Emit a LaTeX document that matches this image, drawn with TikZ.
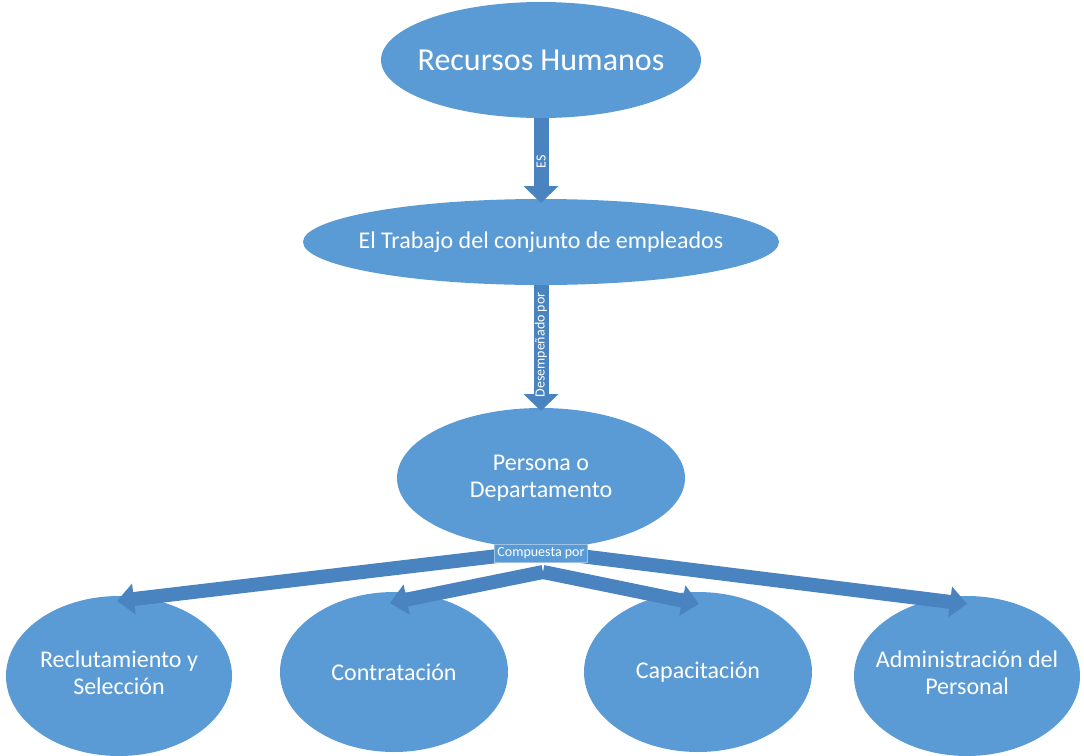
\documentclass[tikz,border=0pt]{standalone}
\usepackage{fontspec}
\setmainfont{Carlito}
\usetikzlibrary{arrows.meta}
\definecolor{fillb}{HTML}{5B9BD5}
\definecolor{arrb}{HTML}{4A84C0}
\begin{document}
\begin{tikzpicture}[x=1pt,y=-1pt,
  txt/.style={text=white,align=center,font=\fontsize{24}{27}\selectfont},
  fat/.style={line width=15pt,draw=arrb,-{Triangle[width=34pt,length=17pt]}},
  side/.style={line width=14pt,draw=arrb,-{Triangle[width=30pt,length=17pt]}},
  lbl/.style={text=white,font=\fontsize{14}{16}\selectfont}]
\useasboundingbox[fill=white] (0,0) rectangle (1084,755);
\path[fill=fillb] (541,60) ellipse[x radius=160,y radius=58];
\node[text=white,font=\fontsize{32}{36}\selectfont] (rh) at (541,60) {Recursos Humanos};
\path[fill=fillb] (541,242) ellipse[x radius=238,y radius=43];
\node[txt] (tr) at (541,242) {El Trabajo del conjunto de empleados};
\path[fill=fillb] (541,478) ellipse[x radius=144,y radius=70];
\node[txt] (pd) at (541,478) {Persona o\\Departamento};
\path[fill=fillb] (119,676) ellipse[x radius=113,y radius=80];
\node[txt] (rs) at (119,673) {Reclutamiento y\\Selección};
\path[fill=fillb] (394,672) ellipse[x radius=114,y radius=80];
\node[txt] (co) at (394,672) {Contratación};
\path[fill=fillb] (698,672) ellipse[x radius=114,y radius=80];
\node[txt] (ca) at (698,672) {Capacitación};
\path[fill=fillb] (967,676) ellipse[x radius=113,y radius=80];
\node[txt] (ad) at (967,673) {Administración del\\Personal};
\coordinate (a1) at (541,118); \coordinate (b1) at (541,203);
\draw[fat] (a1) -- (b1);
\node[lbl,rotate=90] at (541,162) {ES};
\coordinate (a2) at (541,285); \coordinate (b2) at (541,411);
\draw[fat] (a2) -- (b2);
\node[lbl,rotate=90] at (541,345) {Desempeñado por};
\coordinate (h1) at (540,551); \coordinate (h2) at (543,572);
\coordinate (t1) at (117,601); \coordinate (t2) at (390,603);
\coordinate (t3) at (699,604); \coordinate (t4) at (967,604);
\draw[side] (h1) -- (t1);
\draw[side] (h1) -- (t4);
\draw[side] (h2) -- (t2);
\draw[side] (h2) -- (t3);
\node[lbl,fill=fillb,draw=fillb!60!white,inner sep=3pt,minimum height=18pt] (cp) at (541,553) {Compuesta por};
\end{tikzpicture}
\end{document}
